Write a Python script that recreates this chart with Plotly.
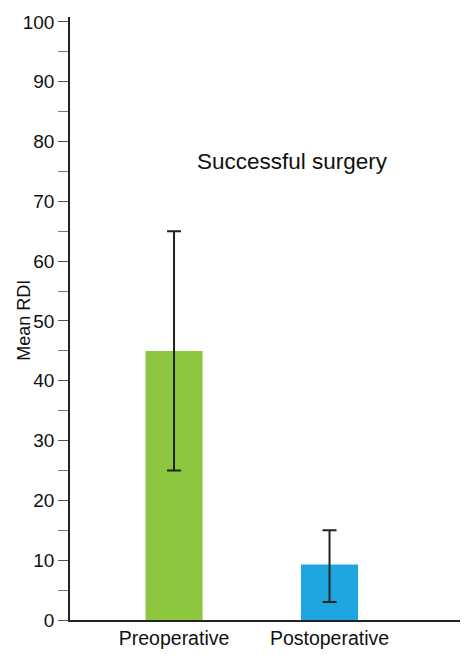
import plotly.graph_objects as go

categories = ["Preoperative", "Postoperative"]
mean_rdi = [45, 9.3]
err_upper = [20, 5.7]
err_lower = [20, 6.3]
bar_colors = ["#8dc63f", "#1ea5e0"]
y_ticks = [0, 10, 20, 30, 40, 50, 60, 70, 80, 90, 100]
y_minor = [5, 15, 25, 35, 45, 55, 65, 75, 85, 95]

FONT = "Liberation Sans, Arial, Helvetica"

fig = go.Figure()
fig.add_trace(go.Bar(
    x=list(range(len(categories))),
    y=mean_rdi,
    width=0.367,
    marker=dict(color=bar_colors, line=dict(width=0)),
    error_y=dict(type="data", symmetric=False, array=err_upper, arrayminus=err_lower,
                 color="#222222", thickness=2, width=7),
))

fig.add_annotation(text="Successful surgery", x=0.762, y=76.7, xref="x", yref="y",
                   showarrow=False, font=dict(size=22.5, color="#111111", family=FONT))

fig.add_annotation(text="Mean RDI", textangle=-90, x=-0.118, xref="paper", xanchor="center",
                   y=50.2, yref="y", showarrow=False,
                   font=dict(size=18, color="#111111", family=FONT))

fig.update_layout(
    width=474, height=663,
    margin=dict(l=70, r=14, t=15, b=43),
    paper_bgcolor="white", plot_bgcolor="white",
    showlegend=False,
    font=dict(family=FONT, color="#111111"),
    xaxis=dict(
        range=[-0.669, 1.839],
        tickmode="array", tickvals=list(range(len(categories))), ticktext=categories,
        showline=True, linecolor="#222222", linewidth=1.5,
        showgrid=False, zeroline=False, ticks="",
        tickfont=dict(size=19.5),
    ),
    yaxis=dict(
        range=[0, 100.83],
        tickmode="array", tickvals=y_ticks,
        showline=True, linecolor="#222222", linewidth=1.5,
        showgrid=False, zeroline=False,
        ticks="outside", ticklen=10, tickcolor="#555555", tickwidth=1,
        minor=dict(tickmode="array", tickvals=y_minor,
                   ticks="outside", ticklen=10, tickcolor="#777777", tickwidth=1, showgrid=False),
        tickfont=dict(size=19),
    ),
)

fig.write_html("out.html")
